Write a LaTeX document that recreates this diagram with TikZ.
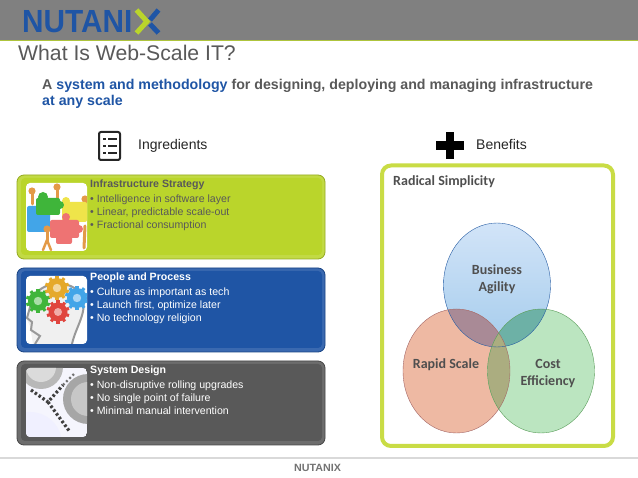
\documentclass[tikz,border=0pt]{standalone}
\usepackage{fontspec}
\setmainfont{Liberation Sans}
\newfontfamily\calibrifont{Carlito}
\usepackage{tikz}
\usetikzlibrary{positioning}
\definecolor{nxblue}{HTML}{1F55A5}
\definecolor{nxlime}{HTML}{BAD52B}
\definecolor{nxframe}{HTML}{C9DC45}
\definecolor{nxgrey}{HTML}{595959}
\definecolor{nxhead}{HTML}{808080}
\definecolor{nxtext}{HTML}{4F4F4F}
\definecolor{nxgreen}{HTML}{3FB53A}
\definecolor{nxsky}{HTML}{42A5E8}
\definecolor{nxsun}{HTML}{EFE44A}
\definecolor{nxrose}{HTML}{EE7373}
\definecolor{nxfig}{HTML}{E39A48}
\definecolor{nxgold}{HTML}{E5A92B}
\definecolor{nxred}{HTML}{E0453E}
\tikzset{
  panel/.style={draw=#1!80!black,line width=0.8pt,fill=#1!88!white,rounded corners=7pt},
  panelface/.style={fill=#1,rounded corners=4pt},
  photo/.style={fill=white,rounded corners=4pt},
  paneltext/.style={anchor=north west,align=left,font=\fontsize{10.6}{12.9}\selectfont,inner sep=0pt},
  vennlabel/.style={align=center,text=nxtext,font=\calibrifont\bfseries\fontsize{14}{17}\selectfont,inner sep=0pt},
  headlabel/.style={anchor=base west,inner sep=0pt,font=\fontsize{14}{16}\selectfont,text=black!85},
  piece/.style={fill=#1,rounded corners=2pt},
}
\newcommand{\gearshape}[4]{% x, y, radius, colour
  \foreach \a in {0,36,...,144}
    \fill[#4,rotate around={\a:(#1,#2)}] (#1-0.16*#3,#2-1.22*#3) rectangle (#1+0.16*#3,#2+1.22*#3);
  \fill[#4] (#1,#2) circle (#3);
  \fill[#4!45!white] (#1,#2) circle (0.42*#3);
}
\newcommand{\figman}[2]{% x, y of the head
  \fill[nxfig] (#1,#2) circle (3.6);
  \draw[nxfig,line width=3pt,line cap=round] (#1,#2+3) -- (#1,#2+13);
}
\begin{document}
\begin{tikzpicture}[x=1pt,y=-1pt]
\useasboundingbox (0,0) rectangle (638,478);
\fill[white] (0,0) rectangle (638,478);
% header
\fill[nxhead] (0,0) rectangle (638,40);
\fill[nxlime!80!gray] (0,40) rectangle (638,41.5);
\node[anchor=base west,inner sep=0pt,text=nxblue,font=\bfseries\fontsize{32}{32}\selectfont,xscale=0.93] (logo) at (22,33) {NUTANI};
\draw[nxlime,line width=5pt] (136.5,10) -- (147,21.5) -- (136.5,33);
\draw[nxblue,line width=5pt] (158.5,10) -- (150,20);
\draw[nxblue,line width=5pt] (150,24) -- (158.5,33);
% title and lead
\node[anchor=base west,inner sep=0pt,text=nxgrey,font=\fontsize{21.2}{24}\selectfont] (title) at (18,61) {What Is Web-Scale IT?};
\node[anchor=base west,inner sep=0pt,text=nxgrey,font=\bfseries\fontsize{14.2}{17}\selectfont] (lead) at (42,89.5)
  {A \textcolor{nxblue}{system and methodology} for designing, deploying and managing infrastructure};
\node[anchor=base west,inner sep=0pt,text=nxblue,font=\bfseries\fontsize{14.2}{17}\selectfont] (leadb) at (42,106) {at any scale};
% column heads
\draw[black!85,line width=2pt,rounded corners=2pt] (99,132) rectangle (120,160);
\foreach \y in {139,146,153} {
  \fill[black!85] (103,\y-1) rectangle (105.5,\y+1);
  \fill[black!85] (108,\y-1) rectangle (117,\y+1);
}
\node[headlabel] (ingredients) at (138,150) {Ingredients};
\fill[black] (445.5,132) rectangle (454,159);
\fill[black] (436,141.5) rectangle (464,150);
\node[headlabel] (benefits) at (476,150) {Benefits};
% left panels
\draw[panel=nxlime] (17,175) rectangle (325,259);
\draw[panel=nxblue] (17,268) rectangle (325,352);
\draw[panel=nxgrey] (17,361) rectangle (325,445);
\fill[panelface=nxlime] (21,178) rectangle (322,255);
\fill[panelface=nxblue] (21,271) rectangle (322,348);
\fill[panelface=nxgrey] (21,364) rectangle (322,441);
% pictures
\fill[photo] (26,183) rectangle (87,251);
\fill[photo] (26,276) rectangle (87,344);
% puzzle
\begin{scope}
\clip[rounded corners=4pt] (26,183) rectangle (87,251);
\figman{32}{191}
\figman{57}{187}
\figman{85}{199}
\fill[piece=nxsky] (27,206) rectangle (50,232);
\fill[piece=nxsun] (62,202) rectangle (87,222);
\fill[nxsun] (66,201) circle (4);
\fill[piece=nxgreen] (36,198) rectangle (60,215);
\fill[nxgreen] (43,197) circle (5);
\fill[nxgreen] (60,205) circle (4);
\fill[piece=nxrose] (50,220) rectangle (79,238);
\fill[piece=nxrose] (56,236) rectangle (72,244);
\fill[nxrose] (66,217) circle (4);
\fill[nxrose] (79,229) circle (4);
\figman{47}{229}
\draw[nxfig,line width=2.5pt,line cap=round] (47,240) -- (43,250);
\draw[nxfig,line width=2.5pt,line cap=round] (47,240) -- (51,250);
\draw[nxfig,line width=3pt,line cap=round] (85,226) -- (84,248);
\end{scope}
% head with gears
\begin{scope}
\clip[rounded corners=4pt] (26,276) rectangle (87,344);
\fill[black!6] (33,344) -- (30,326) -- (27,320) -- (33,296) .. controls (40,280) and (72,278) .. (82,296) .. controls (88,312) and (76,326) .. (72,344) -- cycle;
\draw[black!40,line width=2pt] (35,344) -- (40,336) -- (31,330) -- (32,322) -- (27,318) -- (32,300) .. controls (40,280) and (72,278) .. (82,296) .. controls (88,312) and (76,326) .. (72,344);
\gearshape{38}{301}{10}{nxgreen}
\gearshape{57}{288}{10}{nxgold}
\gearshape{77}{298}{10}{nxsky}
\gearshape{58}{312}{9.5}{nxred}
\end{scope}
% cogs
\begin{scope}
\clip[rounded corners=4pt] (26,368) rectangle (87,437);
\fill[black!22!blue!4!white] (26,368) rectangle (87,437);
\fill[black!28] (41,367) circle (22);
\fill[black!14] (41,367) circle (15);
\fill[black!35] (88,399) circle (25);
\fill[black!22] (88,399) circle (17);
\fill[blue!6!white] (30,444) circle (32);
\draw[black!75,line width=3.2pt,dash pattern=on 2.5pt off 2.2pt] (31,390) -- (48,402) -- (63,385);
\draw[black!75,line width=3.2pt,dash pattern=on 2.5pt off 2.2pt] (48,402) -- (70,432);
\draw[black!55,line width=2.4pt,dash pattern=on 2pt off 2.5pt] (63,385) -- (75,373);
\end{scope}
% panel texts
\node[paneltext,text=nxgrey] (infra) at (90,180) {\textbf{Infrastructure Strategy}\\[1.8pt]
  • Intelligence in software layer\\• Linear, predictable scale-out\\• Fractional consumption};
\node[paneltext,text=white] (people) at (90,273) {\textbf{People and Process}\\[1.8pt]
  • Culture as important as tech\\• Launch first, optimize later\\• No technology religion};
\node[paneltext,text=white] (system) at (90,366) {\textbf{System Design}\\[1.8pt]
  • Non-disruptive rolling upgrades\\• No single point of failure\\• Minimal manual intervention};
% right frame
\draw[nxframe,line width=4pt,rounded corners=9pt] (382,165.5) rectangle (613,446);
\node[anchor=base west,inner sep=0pt,text=nxtext,font=\calibrifont\bfseries\fontsize{14}{16}\selectfont] (radical) at (393,186) {Radical Simplicity};
% venn
\definecolor{venntop}{HTML}{D2E4F8}
\definecolor{vennbot}{HTML}{A5CCEC}
\shade[top color=venntop,bottom color=vennbot] (497,285) ellipse (53.5 and 62);
\fill[fill={rgb,255:red,238;green,185;blue,163}] (456.5,371) ellipse (53.5 and 62);
\fill[fill={rgb,255:red,187;green,229;blue,192}] (541,371) ellipse (53.5 and 62);
\begin{scope}
\clip (497,285) ellipse (53.5 and 62);
\fill[fill={rgb,255:red,169;green,138;blue,150}] (456.5,371) ellipse (53.5 and 62);
\fill[fill={rgb,255:red,109;green,177;blue,166}] (541,371) ellipse (53.5 and 62);
\end{scope}
\begin{scope}
\clip (456.5,371) ellipse (53.5 and 62);
\fill[fill={rgb,255:red,171;green,173;blue,128}] (541,371) ellipse (53.5 and 62);
\end{scope}
\draw[blue!40!teal!70!gray] (497,285) ellipse (53.5 and 62);
\draw[red!40!black!60] (456.5,371) ellipse (53.5 and 62);
\draw[green!40!black!65] (541,371) ellipse (53.5 and 62);
\node[vennlabel] (agility) at (497,279) {Business\\Agility};
\node[vennlabel] (rapid) at (446,365) {Rapid Scale};
\node[vennlabel] (cost) at (548,374) {Cost\\Efficiency};
% footer
\fill[black!15] (0,457.5) rectangle (638,459);
\node[inner sep=0pt,text=black!55,font=\bfseries\fontsize{10.5}{12}\selectfont,xscale=1.02] (footlogo) at (317.5,468) {NUTANIX};
\end{tikzpicture}
\end{document}
